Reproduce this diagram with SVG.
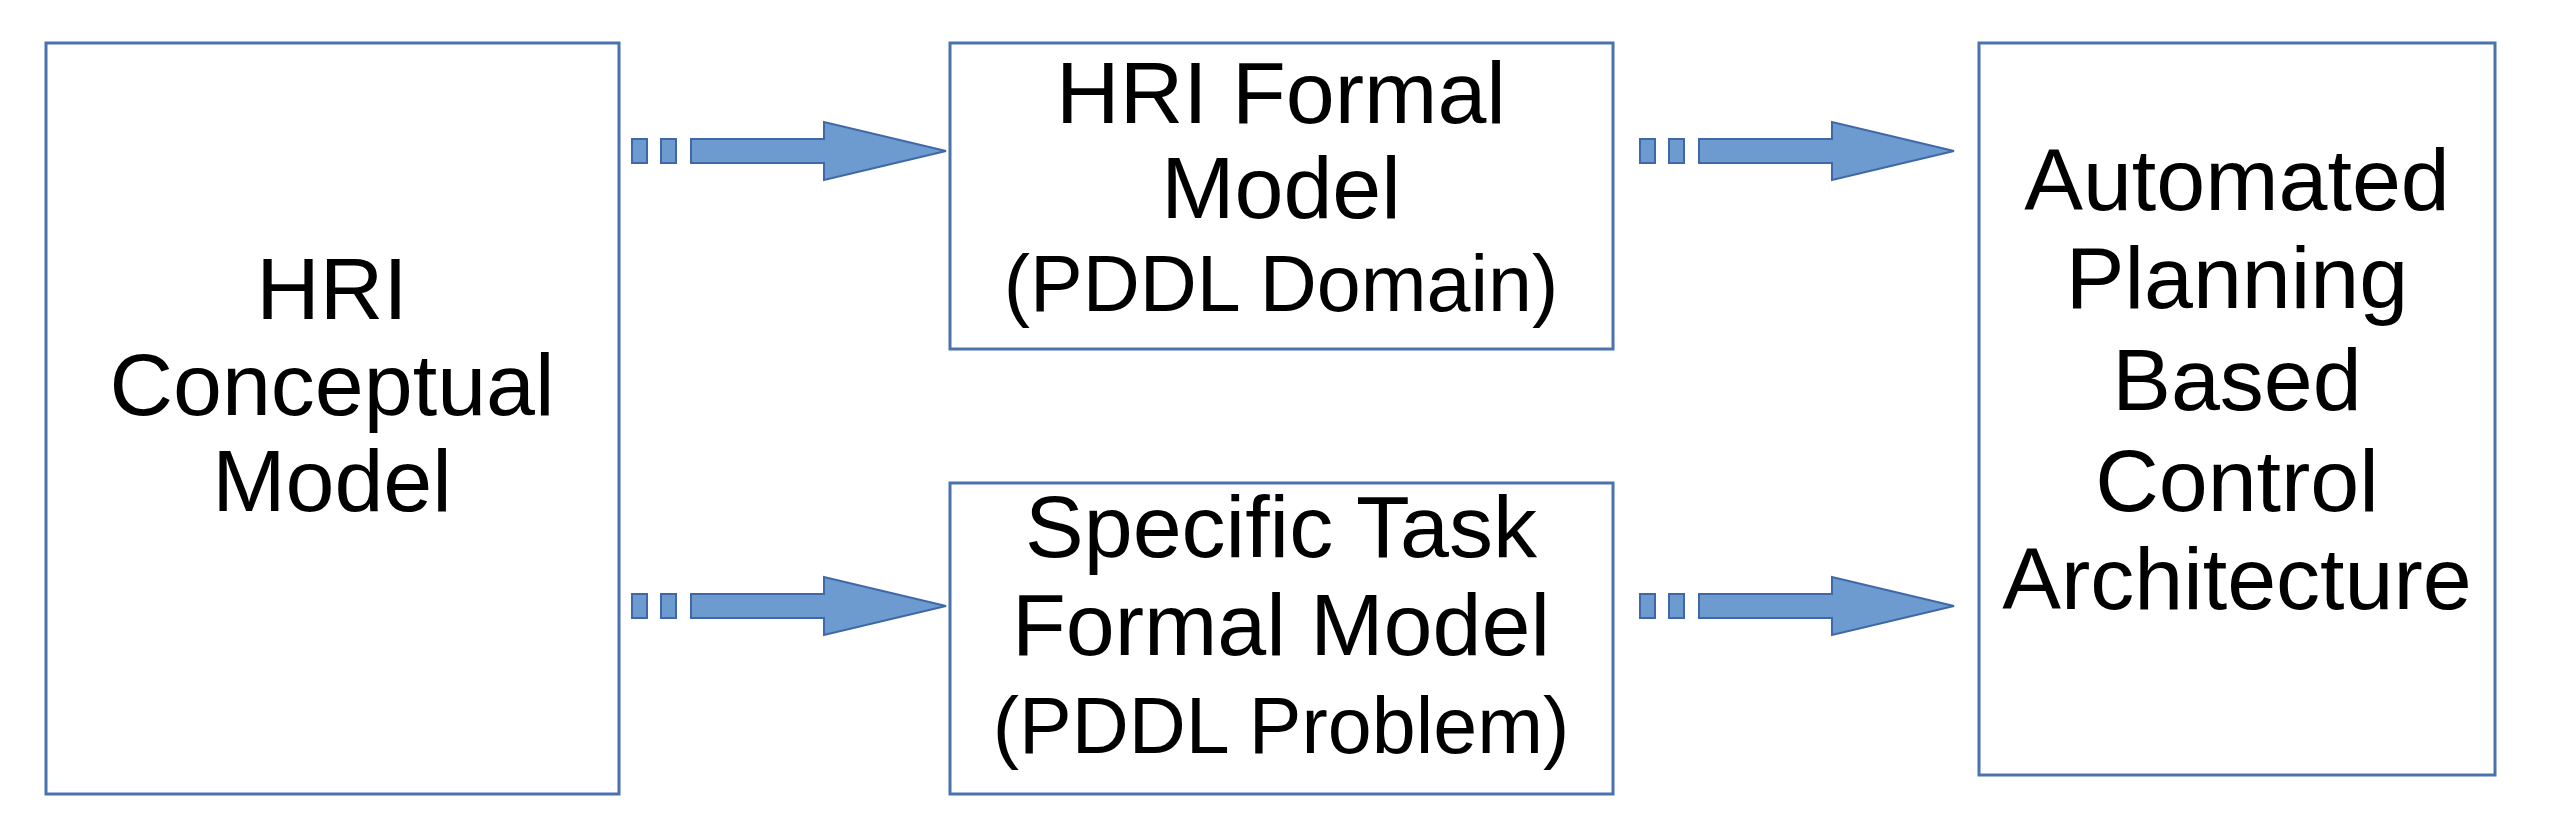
<svg xmlns="http://www.w3.org/2000/svg" width="2556" height="819" viewBox="0 0 2556 819">
<defs>
<style>
.box{fill:#fff;stroke:#4a72ad;stroke-width:3}
.t{font-family:"Liberation Sans",Arial,sans-serif;font-size:88px;text-anchor:middle;fill:#000}
.s{font-size:79px}
.arr{fill:#6d9bd0;stroke:#3f68a8;stroke-width:2}
</style>
<g id="arrow">
<rect class="arr" x="0" y="-12" width="15" height="24"/>
<rect class="arr" x="29" y="-12" width="15" height="24"/>
<polygon class="arr" points="59,-12 192,-12 192,-29 314,0 192,29 192,12 59,12"/>
</g>
</defs>
<rect width="2556" height="819" fill="#fff"/>
<g id="conceptual">
<rect class="box" x="46" y="43" width="573" height="751"/>
<text class="t" x="332" y="319">HRI</text>
<text class="t" x="332" y="415">Conceptual</text>
<text class="t" x="332" y="511">Model</text>
</g>
<g id="formal">
<rect class="box" x="950" y="43" width="663" height="306"/>
<text class="t" x="1281" y="123">HRI Formal</text>
<text class="t" x="1281" y="218">Model</text>
<text class="t s" x="1281" y="311">(PDDL Domain)</text>
</g>
<g id="task">
<rect class="box" x="950" y="483" width="663" height="311"/>
<text class="t" x="1281" y="557">Specific Task</text>
<text class="t" x="1281" y="655">Formal Model</text>
<text class="t s" x="1281" y="753">(PDDL Problem)</text>
</g>
<g id="architecture">
<rect class="box" x="1979" y="43" width="516" height="732"/>
<text class="t" x="2237" y="210">Automated</text>
<text class="t" x="2237" y="308">Planning</text>
<text class="t" x="2237" y="410">Based</text>
<text class="t" x="2237" y="511">Control</text>
<text class="t" x="2237" y="609">Architecture</text>
</g>
<g id="connectors">
<use href="#arrow" x="632" y="151"/>
<use href="#arrow" x="632" y="606"/>
<use href="#arrow" x="1640" y="151"/>
<use href="#arrow" x="1640" y="606"/>
</g>
</svg>
